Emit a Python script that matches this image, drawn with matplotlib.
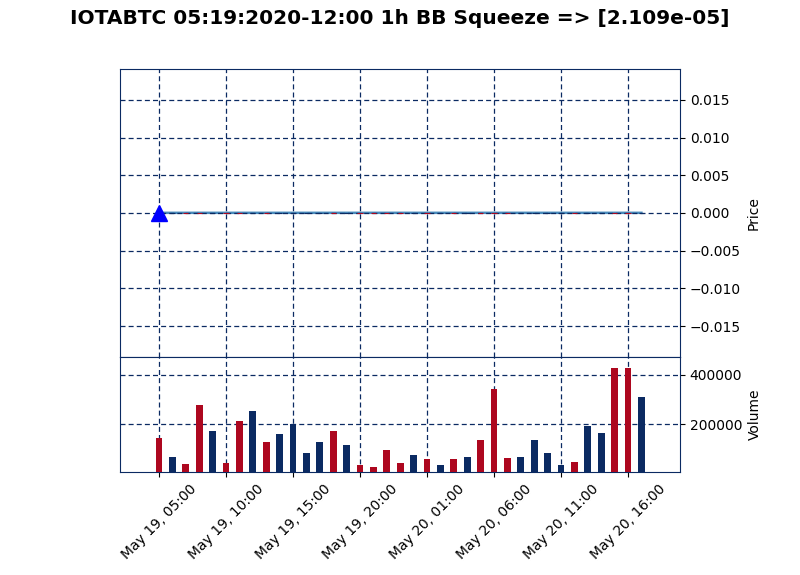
import matplotlib
matplotlib.use("Agg")
import matplotlib.pyplot as plt
import numpy as np

# ---- data ----
tick_labels = ["May 19, 05:00", "May 19, 10:00", "May 19, 15:00", "May 19, 20:00",
               "May 20, 01:00", "May 20, 06:00", "May 20, 11:00", "May 20, 16:00"]
tick_index = [0, 5, 10, 15, 20, 25, 30, 35]

opens = [2.125e-05, 2.120e-05, 2.124e-05, 2.121e-05, 2.115e-05, 2.119e-05, 2.117e-05, 2.110e-05,
         2.116e-05, 2.112e-05, 2.115e-05, 2.118e-05, 2.120e-05, 2.123e-05, 2.118e-05, 2.121e-05,
         2.119e-05, 2.117e-05, 2.114e-05, 2.112e-05, 2.115e-05, 2.113e-05, 2.116e-05, 2.114e-05,
         2.117e-05, 2.113e-05, 2.105e-05, 2.103e-05, 2.106e-05, 2.110e-05, 2.112e-05, 2.113e-05,
         2.111e-05, 2.115e-05, 2.118e-05, 2.112e-05, 2.107e-05]
closes = [2.120e-05, 2.124e-05, 2.121e-05, 2.115e-05, 2.119e-05, 2.117e-05, 2.110e-05, 2.116e-05,
          2.112e-05, 2.115e-05, 2.118e-05, 2.120e-05, 2.123e-05, 2.118e-05, 2.121e-05, 2.119e-05,
          2.117e-05, 2.114e-05, 2.112e-05, 2.115e-05, 2.113e-05, 2.116e-05, 2.114e-05, 2.117e-05,
          2.113e-05, 2.105e-05, 2.103e-05, 2.106e-05, 2.110e-05, 2.112e-05, 2.113e-05, 2.111e-05,
          2.115e-05, 2.118e-05, 2.112e-05, 2.107e-05, 2.109e-05]
volumes = [145000, 69000, 41000, 277000, 173000, 45000, 213000, 253000, 129000, 161000,
           201000, 85000, 129000, 173000, 117000, 37000, 29000, 97000, 45000, 77000,
           61000, 37000, 61000, 69000, 137000, 341000, 65000, 69000, 137000, 85000,
           37000, 49000, 193000, 165000, 429000, 429000, 309000]
signal_index = [0]
signal_price = [0.0]

UP = "#0b2a62"
DOWN = "#ad071f"
GRID = "#0b2a62"
LINE = "#4a8cbc"

x = np.arange(len(closes))
colors = [UP if c >= o else DOWN for o, c in zip(opens, closes)]

fig = plt.figure(figsize=(8.0, 5.75), dpi=100)
axp = fig.add_axes([0.15, 0.3792, 0.70, 0.5008])
axv = fig.add_axes([0.15, 0.1791, 0.70, 0.2001], sharex=axp)

for ax in (axp, axv):
    ax.grid(True, linestyle=(0, (4, 2.5)), color=GRID, linewidth=0.9)
    for s in ax.spines.values():
        s.set_color(GRID)
    ax.yaxis.tick_right()
    ax.yaxis.set_label_position("right")
axp.set_axisbelow(False)
axv.set_axisbelow(True)

# price panel
axp.plot(x, closes, color=LINE, linewidth=1.8, zorder=2)
bottoms = [min(o, c) for o, c in zip(opens, closes)]
heights = [abs(c - o) for o, c in zip(opens, closes)]
axp.bar(x, heights, bottom=bottoms, width=0.4, color=colors, edgecolor=colors,
        linewidth=0.8, zorder=3)
axp.plot(signal_index, signal_price, linestyle="none", marker="^", markersize=12,
         color="#0000ff", zorder=5)
axp.set_ylim(-0.0191, 0.0191)
axp.set_yticks([-0.015, -0.010, -0.005, 0.0, 0.005, 0.010, 0.015])
axp.set_ylabel("Price", fontsize=10)
plt.setp(axp.get_xticklabels(), visible=False)
axp.tick_params(axis="x", length=0)

# volume panel
axv.bar(x, volumes, width=0.5, color=colors, zorder=3)
axv.set_ylim(0.3 * min(volumes), 1.1 * max(volumes))
axv.set_yticks([200000, 400000])
axv.set_ylabel("Volume", fontsize=10)
axv.set_xlim(-2.91, 38.88)
axv.set_xticks(tick_index)
axv.set_xticklabels(tick_labels, rotation=45, ha="center", fontsize=10)

fig.suptitle("IOTABTC 05:19:2020-12:00 1h BB Squeeze => [2.109e-05]",
             fontsize=14.5, fontweight="bold", y=0.985)

fig.savefig("out.png", dpi=100)
